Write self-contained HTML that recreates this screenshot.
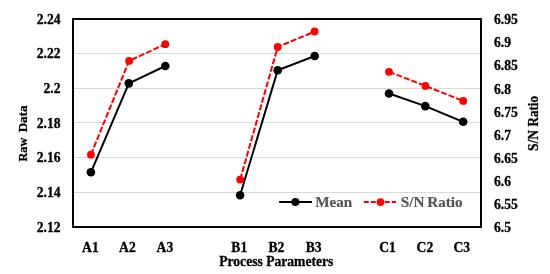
<!DOCTYPE html><html><head><meta charset="utf-8"><style>html,body{margin:0;padding:0;background:#fff;}svg{display:block;}text{font-family:"Liberation Serif",serif;font-weight:bold;stroke:#000;stroke-width:0.3px;}</style></head><body>
<svg width="550" height="274" viewBox="0 0 550 274">
<rect x="0" y="0" width="550" height="274" fill="#fff"/>
<line x1="73" y1="53.50" x2="481" y2="53.50" stroke="#d9d9d9" stroke-width="1"/>
<line x1="73" y1="88.50" x2="481" y2="88.50" stroke="#d9d9d9" stroke-width="1"/>
<line x1="73" y1="122.50" x2="481" y2="122.50" stroke="#d9d9d9" stroke-width="1"/>
<line x1="73" y1="157.50" x2="481" y2="157.50" stroke="#d9d9d9" stroke-width="1"/>
<line x1="73" y1="192.50" x2="481" y2="192.50" stroke="#d9d9d9" stroke-width="1"/>
<rect x="73" y="19" width="408" height="208" fill="none" stroke="#000" stroke-width="2"/>
<text x="60.5" y="23.50" font-size="13.6" text-anchor="end">2.24</text>
<text x="60.5" y="58.17" font-size="13.6" text-anchor="end">2.22</text>
<text x="60.5" y="92.83" font-size="13.6" text-anchor="end">2.2</text>
<text x="60.5" y="127.50" font-size="13.6" text-anchor="end">2.18</text>
<text x="60.5" y="162.17" font-size="13.6" text-anchor="end">2.16</text>
<text x="60.5" y="196.83" font-size="13.6" text-anchor="end">2.14</text>
<text x="60.5" y="231.50" font-size="13.6" text-anchor="end">2.12</text>
<text x="494" y="24.20" font-size="13.6">6.95</text>
<text x="494" y="47.31" font-size="13.6">6.9</text>
<text x="494" y="70.42" font-size="13.6">6.85</text>
<text x="494" y="93.53" font-size="13.6">6.8</text>
<text x="494" y="116.64" font-size="13.6">6.75</text>
<text x="494" y="139.76" font-size="13.6">6.7</text>
<text x="494" y="162.87" font-size="13.6">6.65</text>
<text x="494" y="185.98" font-size="13.6">6.6</text>
<text x="494" y="209.09" font-size="13.6">6.55</text>
<text x="494" y="232.20" font-size="13.6">6.5</text>
<text x="90.40" y="252.3" font-size="13.6" text-anchor="middle">A1</text>
<text x="127.40" y="252.3" font-size="13.6" text-anchor="middle">A2</text>
<text x="164.90" y="252.3" font-size="13.6" text-anchor="middle">A3</text>
<text x="239.30" y="252.3" font-size="13.6" text-anchor="middle">B1</text>
<text x="276.40" y="252.3" font-size="13.6" text-anchor="middle">B2</text>
<text x="313.60" y="252.3" font-size="13.6" text-anchor="middle">B3</text>
<text x="387.60" y="252.3" font-size="13.6" text-anchor="middle">C1</text>
<text x="424.90" y="252.3" font-size="13.6" text-anchor="middle">C2</text>
<text x="461.80" y="252.3" font-size="13.6" text-anchor="middle">C3</text>
<text x="276.3" y="265.8" font-size="13.6" text-anchor="middle">Process Parameters</text>
<text transform="translate(27.4,161.5) rotate(-90)" font-size="13.3" textLength="23.8" lengthAdjust="spacingAndGlyphs">Raw</text>
<text transform="translate(27.4,132.3) rotate(-90)" font-size="13.3" textLength="26.8" lengthAdjust="spacingAndGlyphs">Data</text>
<text transform="translate(538.4,150.9) rotate(-90)" font-size="13.6" textLength="21" lengthAdjust="spacingAndGlyphs">S/N</text>
<text transform="translate(538.4,126.4) rotate(-90)" font-size="13.6" textLength="30.4" lengthAdjust="spacingAndGlyphs">Ratio</text>
<polyline points="90.9,172.3 128.8,83.4 165.3,66.0" fill="none" stroke="#000" stroke-width="2"/>
<polyline points="240.1,195.3 277.7,70.2 314.7,56.0" fill="none" stroke="#000" stroke-width="2"/>
<polyline points="389,93.5 425.3,106.1 463.2,121.8" fill="none" stroke="#000" stroke-width="2"/>
<polyline points="90.9,154.7 129.1,60.9 165.3,44.2" fill="none" stroke="#ff0000" stroke-width="2" stroke-dasharray="6 2"/>
<polyline points="240.2,179.6 277.7,47.0 314.6,31.5" fill="none" stroke="#ff0000" stroke-width="2" stroke-dasharray="6 2"/>
<polyline points="389,71.8 425.4,85.9 463.2,100.9" fill="none" stroke="#ff0000" stroke-width="2" stroke-dasharray="6 2"/>
<circle cx="90.9" cy="172.3" r="4.3" fill="#000"/>
<circle cx="128.8" cy="83.4" r="4.3" fill="#000"/>
<circle cx="165.3" cy="66.0" r="4.3" fill="#000"/>
<circle cx="240.1" cy="195.3" r="4.3" fill="#000"/>
<circle cx="277.7" cy="70.2" r="4.3" fill="#000"/>
<circle cx="314.7" cy="56.0" r="4.3" fill="#000"/>
<circle cx="389" cy="93.5" r="4.3" fill="#000"/>
<circle cx="425.3" cy="106.1" r="4.3" fill="#000"/>
<circle cx="463.2" cy="121.8" r="4.3" fill="#000"/>
<circle cx="90.9" cy="154.7" r="3.9" fill="#ff0000"/>
<circle cx="129.1" cy="60.9" r="3.9" fill="#ff0000"/>
<circle cx="165.3" cy="44.2" r="3.9" fill="#ff0000"/>
<circle cx="240.2" cy="179.6" r="3.9" fill="#ff0000"/>
<circle cx="277.7" cy="47.0" r="3.9" fill="#ff0000"/>
<circle cx="314.6" cy="31.5" r="3.9" fill="#ff0000"/>
<circle cx="389" cy="71.8" r="3.9" fill="#ff0000"/>
<circle cx="425.4" cy="85.9" r="3.9" fill="#ff0000"/>
<circle cx="463.2" cy="100.9" r="3.9" fill="#ff0000"/>
<line x1="279.2" y1="202" x2="312" y2="202" stroke="#000" stroke-width="2"/>
<circle cx="295.4" cy="202.1" r="4" fill="#000"/>
<text x="315.2" y="206.6" font-size="15.2" style="fill:#575757;stroke:#575757;stroke-width:0.2px">Mean</text>
<line x1="363.8" y1="202" x2="396" y2="202" stroke="#ff0000" stroke-width="2" stroke-dasharray="5 2"/>
<circle cx="380.5" cy="202.1" r="3.9" fill="#ff0000"/>
<text x="400.8" y="206.6" font-size="15.2" style="fill:#575757;stroke:#575757;stroke-width:0.2px" word-spacing="-1">S/N Ratio</text>
</svg></body></html>
